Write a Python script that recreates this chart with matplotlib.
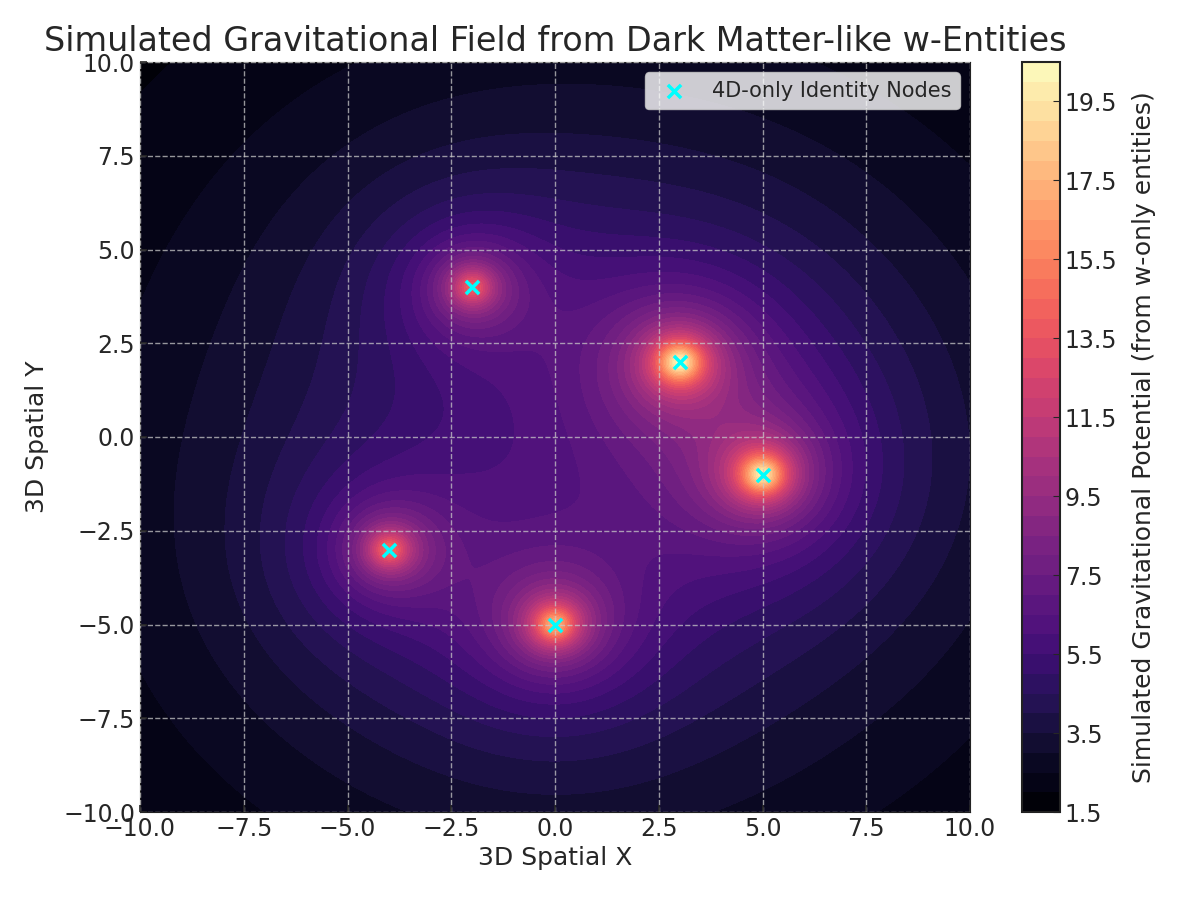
import numpy as np
import matplotlib
matplotlib.use("Agg")
import matplotlib.pyplot as plt

# Node data
node_x = [3, -4, 0, 5, -2]
node_y = [2, -3, -5, -1, 4]
node_mass = [6.9, 4.75, 5.85, 6.8, 4.5]
softening = 0.18

title = "Simulated Gravitational Field from Dark Matter-like w-Entities"
xlabel = "3D Spatial X"
ylabel = "3D Spatial Y"
cbar_label = "Simulated Gravitational Potential (from w-only entities)"
legend_label = "4D-only Identity Nodes"

x = np.linspace(-10, 10, 500)
y = np.linspace(-10, 10, 500)
X, Y = np.meshgrid(x, y)
Z = np.zeros_like(X)
for nx, ny, m in zip(node_x, node_y, node_mass):
    Z += m / np.sqrt((X - nx) ** 2 + (Y - ny) ** 2 + softening)

plt.rcParams.update({
    "font.family": "DejaVu Sans",
    "xtick.direction": "in",
    "ytick.direction": "in",
    "axes.edgecolor": "#222222",
    "text.color": "#262626",
    "axes.labelcolor": "#262626",
    "xtick.color": "#262626",
    "ytick.color": "#262626",
})

fig = plt.figure(figsize=(12, 9), dpi=100)
ax = fig.add_axes([140 / 1200, 1 - 812 / 900, 830 / 1200, 750 / 900])
cax = fig.add_axes([1022 / 1200, 1 - 812 / 900, 38 / 1200, 750 / 900])

cs = ax.contourf(X, Y, Z, levels=40, cmap="magma")
ax.scatter(node_x, node_y, marker="x", color="cyan", s=90, linewidths=2.5,
           label=legend_label, zorder=5)
ax.set_xlim(-10, 10)
ax.set_ylim(-10, 10)
ax.grid(True, linestyle="--", color="#c8c8c8", alpha=0.75, linewidth=1.0)
ax.set_axisbelow(False)
ax.tick_params(labelsize=17, length=5, width=1.2)
ax.set_xlabel(xlabel, fontsize=18, labelpad=4)
ax.set_ylabel(ylabel, fontsize=18, labelpad=10)
ax.set_title(title, fontsize=24, pad=8)
leg = ax.legend(loc="upper right", fontsize=15, framealpha=0.8)

cb = fig.colorbar(cs, cax=cax)
cb.set_label(cbar_label, fontsize=18, labelpad=10)
cb.ax.tick_params(labelsize=17, direction="in", length=5)
cb.outline.set_linewidth(1.5)

fig.savefig("out.png", dpi=100)
